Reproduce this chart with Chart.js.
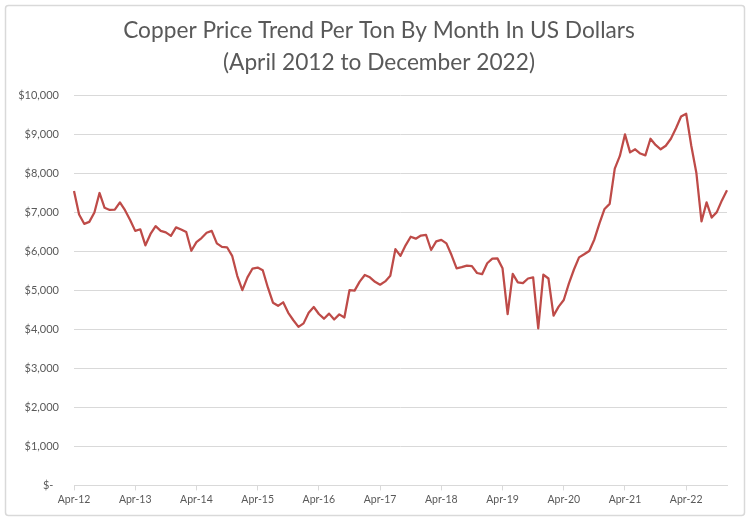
<!DOCTYPE html>
<html>
<head>
<meta charset="utf-8">
<script src="https://cdn.jsdelivr.net/npm/chart.js@4.4.0/dist/chart.umd.min.js"></script>
<style>
  body { margin: 0; background: #fff; }
  #wrap { width: 750px; height: 526px; }
</style>
</head>
<body>
<div id="wrap"><canvas id="copperChart" width="750" height="526"></canvas></div>
<script>
// monthly copper price per ton (USD)
const p2012 = [7540, 6940, 6700, 6750, 6990, 7490, 7110, 7055, 7065]; // Apr-Dec
const p2013 = [7250, 7050, 6800, 6520, 6560, 6150, 6440, 6640, 6520, 6480, 6390, 6610];
const p2014 = [6555, 6490, 6010, 6230, 6335, 6470, 6520, 6200, 6110, 6100, 5880, 5370];
const p2015 = [5000, 5330, 5555, 5580, 5510, 5070, 4680, 4600, 4690, 4420, 4230, 4060];
const p2016 = [4150, 4420, 4570, 4390, 4270, 4400, 4250, 4380, 4300, 5000, 4990, 5220];
const p2017 = [5390, 5330, 5215, 5140, 5225, 5370, 6050, 5880, 6150, 6370, 6320, 6400];
const p2018 = [6420, 6030, 6250, 6290, 6200, 5900, 5560, 5590, 5630, 5615, 5440, 5410];
const p2019 = [5690, 5810, 5815, 5560, 4390, 5420, 5200, 5180, 5300, 5330, 4020, 5400];
const p2020 = [5300, 4350, 4580, 4750, 5170, 5530, 5840, 5920, 6005, 6300, 6710, 7080];
const p2021 = [7210, 8115, 8440, 8990, 8530, 8610, 8500, 8455, 8880, 8720, 8610, 8700];
const p2022 = [8880, 9150, 9450, 9520, 8700, 8000, 6760, 7250, 6860, 7000, 7300, 7560];

const prices = [].concat(p2012, p2013, p2014, p2015, p2016, p2017, p2018, p2019, p2020, p2021, p2022);

const titleLines = ['Copper Price Trend Per Ton By Month In US Dollars', '(April 2012 to December 2022)'];
const monthNames = ['Jan', 'Feb', 'Mar', 'Apr', 'May', 'Jun', 'Jul', 'Aug', 'Sep', 'Oct', 'Nov', 'Dec'];
const tickLabels = ['Apr-12', 'Apr-13', 'Apr-14', 'Apr-15', 'Apr-16', 'Apr-17', 'Apr-18', 'Apr-19', 'Apr-20', 'Apr-21', 'Apr-22'];

// category labels, one per month from Apr-12
const months = [];
for (let i = 0; i < prices.length; i++) {
    const m = (3 + i) % 12;
    const y = 12 + Math.floor((3 + i) / 12);
    months.push(monthNames[m] + '-' + y);
}

const gridGray = '#d9d9d9';
const textGray = '#595959';

// white background, light rounded frame and the two-line title (Excel style)
const framePlugin = {
    id: 'frame',
    beforeDraw(chart) {
        const c = chart.ctx;
        c.save();
        c.fillStyle = '#fff';
        c.fillRect(0, 0, chart.width, chart.height);
        c.strokeStyle = gridGray;
        c.lineWidth = 1.5;
        c.beginPath();
        c.roundRect(5.5, 5.5, 739, 510, 3);
        c.stroke();
        c.fillStyle = textGray;
        c.font = '22.7px Lato';
        c.textAlign = 'center';
        c.textBaseline = 'middle';
        c.fillText(titleLines[0], 379, 31);
        c.fillText(titleLines[1], 379, 63);
        c.restore();
    }
};

new Chart(document.getElementById('copperChart'), {
    type: 'line',
    data: {
        labels: months,
        datasets: [{
            label: 'Copper',
            data: prices,
            borderColor: '#be4b48',
            borderWidth: 2.25,
            pointRadius: 0,
            tension: 0,
            borderJoinStyle: 'round',
            fill: false
        }]
    },
    options: {
        responsive: false,
        animation: false,
        layout: {
            padding: { left: 6, right: 23, top: 95, bottom: 17 }
        },
        plugins: {
            legend: { display: false },
            tooltip: { enabled: false },
            title: { display: false }
        },
        scales: {
            x: {
                offset: false,
                grid: {
                    drawOnChartArea: false,
                    tickLength: 5,
                    color: (ctx) => (ctx.index % 12 === 0 ? gridGray : 'rgba(0,0,0,0)')
                },
                border: { color: gridGray, width: 1 },
                ticks: {
                    autoSkip: false,
                    maxRotation: 0,
                    padding: 3,
                    color: textGray,
                    font: { family: 'Lato', size: 10.5 },
                    callback: function (val, index) {
                        return tickLabels.includes(months[index]) ? months[index] : '';
                    }
                }
            },
            y: {
                min: 0,
                max: 10000,
                grid: { color: gridGray, drawTicks: false },
                border: { display: false },
                ticks: {
                    stepSize: 1000,
                    padding: 15,
                    color: textGray,
                    font: { family: 'Lato', size: 11 },
                    callback: (v) => (v === 0 ? '$-  ' : '$' + v.toLocaleString('en-US'))
                },
                afterFit: (scale) => { scale.width = 68; }
            }
        }
    },
    plugins: [framePlugin]
});
</script>
</body>
</html>
